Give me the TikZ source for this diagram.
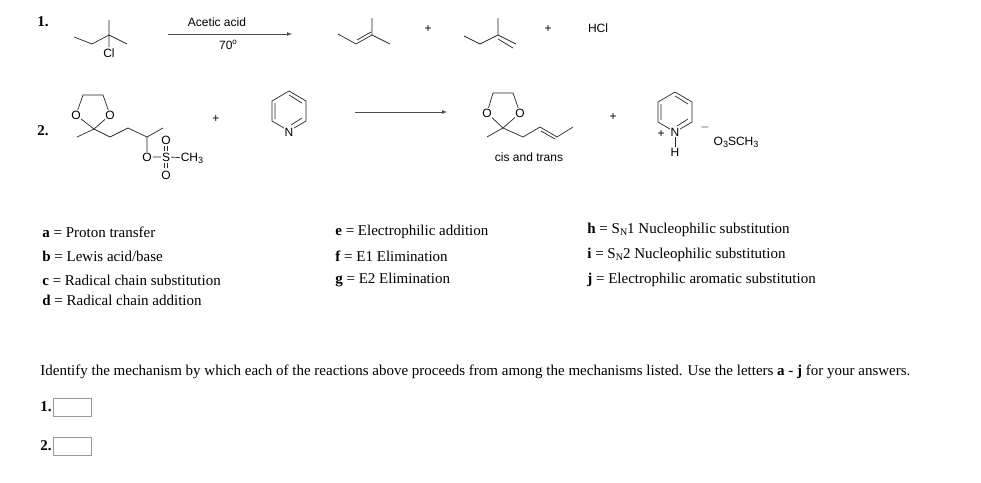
\documentclass[tikz,border=0pt]{standalone}
\usepackage{fontspec}
\setmainfont{Liberation Serif}
\newfontfamily\chemf{Liberation Sans}
\newcommand{\csub}[1]{\raisebox{-0.35ex}{\fontsize{9}{10}\selectfont #1}}
\begin{document}
\begin{tikzpicture}[x=1pt,y=-1pt,line width=0.7pt,
  bond/.style={draw=black!85},
  lab/.style={font=\fontsize{15}{17}\selectfont,anchor=west,inner sep=0},
  ch/.style={font=\chemf\fontsize{12}{14}\selectfont,inner sep=0.8pt,fill=white},
  num/.style={font=\bfseries\fontsize{15}{17}\selectfont,inner sep=0},
  ansbox/.style={draw=black!40,line width=0.6pt,minimum width=38pt,minimum height=18pt,inner sep=0}]
\useasboundingbox (0,0) rectangle (981,482);
% reaction 1
\node[num] (n1) at (43,22) {1.};
\draw[bond] (74,37)--(92,44)--(109,35)--(109,20) (109,35)--(127,44) (109,35)--(109,47);
\node[ch] (cl) at (109,53) {Cl};
\coordinate (a1s) at (168,34); \coordinate (a1e) at (292,34);
\draw[-latex,black!70] (a1s)--(a1e);
\node[ch] (aa) at (217,22) {Acetic acid};
\node[ch] (t70) at (228,45) {70\raisebox{0.8ex}{\fontsize{8}{9}\selectfont o}};
\draw[bond] (338,34)--(356,44)--(372,35)--(372,18) (372,35)--(390,44);
\draw[bond] (357,40)--(371,32);
\node[ch] (p1) at (428,29) {+};
\draw[bond] (464,36)--(480,44)--(498,35)--(498,18) (498,35)--(516,44);
\draw[bond] (498,39)--(513,48);
\node[ch] (p2) at (548,29) {+};
\node[ch] (hcl) at (598,28) {HCl};
% reaction 2
\node[num] (n2) at (43,131) {2.};
\draw[bond] (94,129)--(76,115)--(83,95)--(103,95)--(110,115)--(94,129);
\node[ch] (o1) at (76,115) {O};
\node[ch] (o2) at (110,115) {O};
\draw[bond] (77,137)--(94,129)--(110,137)--(128,128)--(147,137)--(163,128) (147,137)--(147,152);
\node[ch] (o3) at (147,157) {O};
\node[ch] (s1) at (166,157) {S};
\node[ch] (ch3a) at (192,158) {CH\csub{3}};
\draw[bond] (o3)--(s1) (s1)--(ch3a);
\node[ch] (o4) at (166,140) {O};
\node[ch] (o5) at (166,175) {O};
\draw[bond] (164.5,146)--(164.5,151) (167.5,146)--(167.5,151) (164.5,163)--(164.5,168) (167.5,163)--(167.5,168);
\node[ch] (p3) at (216,119) {+};
% pyridine
\draw[bond] (289,91)--(306,101)--(306,121)--(289,131)--(272,121)--(272,101)--cycle;
\draw[bond] (289,95)--(302,103) (302,118)--(291,125) (275,103)--(275,119);
\node[ch] (nn) at (289,132) {N};
\coordinate (a2s) at (355,112); \coordinate (a2e) at (447,112);
\draw[-latex,black!70] (a2s)--(a2e);
% product dioxolane
\draw[bond] (503,128)--(487,113)--(493,93)--(513,93)--(520,113)--(503,128);
\node[ch] (o6) at (487,113) {O};
\node[ch] (o7) at (520,113) {O};
\draw[bond] (487,137)--(503,128)--(523,137)--(540,127)--(557,137)--(573,127);
\draw[bond] (541,131)--(555,139);
\node[ch,fill=none] (ct) at (529,157) {cis and trans};
\node[ch] (p4) at (613,117) {+};
% pyridinium
\draw[bond] (675,92)--(692,102)--(692,122)--(675,132)--(658,122)--(658,102)--cycle;
\draw[bond] (675,96)--(688,104) (688,119)--(677,126) (661,104)--(661,120);
\node[ch] (nh) at (675,132) {N};
\node[ch] (hh) at (675,152) {H};
\draw[bond] (nh)--(hh);
\node[ch,fill=none] (pl) at (661,134) {+};
\node[ch,fill=none] (mi) at (705,127) {$-$};
\node[ch,fill=none] (ms) at (736,142) {O\csub{3}SCH\csub{3}};
% mechanism list
\node[lab] (la) at (42,232) {\textbf{a} = Proton transfer};
\node[lab] (lb) at (42,256) {\textbf{b} = Lewis acid/base};
\node[lab] (lc) at (42,280) {\textbf{c} = Radical chain substitution};
\node[lab] (ld) at (42,300) {\textbf{d} = Radical chain addition};
\node[lab] (le) at (335,232) {\textbf{e} = Electrophilic addition};
\node[lab] (lf) at (335,256) {\textbf{f} = E1 Elimination};
\node[lab] (lg) at (335,280) {\textbf{g} = E2 Elimination};
\node[lab] (lh) at (587,230) {\textbf{h} = S\raisebox{-0.3ex}{\fontsize{10}{12}\selectfont N}1 Nucleophilic substitution};
\node[lab] (li) at (587,255) {\textbf{i} = S\raisebox{-0.3ex}{\fontsize{10}{12}\selectfont N}2 Nucleophilic substitution};
\node[lab] (lj) at (587,280) {\textbf{j} = Electrophilic aromatic substitution};
\node[lab] (q) at (40,372) {Identify the mechanism by which each of the reactions above proceeds from among the mechanisms listed. Use the letters \textbf{a - j} for your answers.};
\node[num] (q1) at (46,407) {1.};
\node[ansbox] (b1) at (72,407) {};
\node[num] (q2) at (46,446) {2.};
\node[ansbox] (b2) at (72,446) {};
\end{tikzpicture}
\end{document}
